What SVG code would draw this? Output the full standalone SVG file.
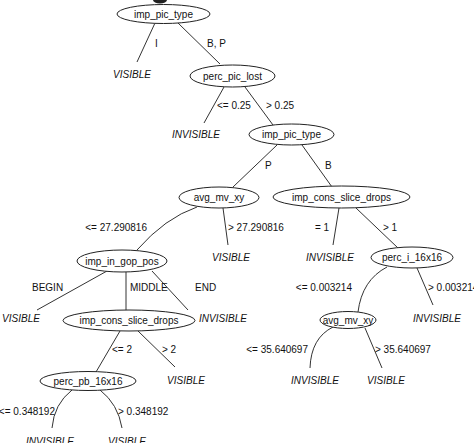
<svg xmlns="http://www.w3.org/2000/svg" width="474" height="443" viewBox="0 0 474 443">
<style>
.n ellipse{fill:#fff;stroke:#222;stroke-width:1}
text{font-family:"Liberation Sans",Arial,sans-serif;font-size:10px;fill:#111}
.c{text-anchor:middle}
.leaf{font-style:italic}
#edges path,#edges line{stroke:#333;stroke-width:1;fill:none}
</style>
<rect width="474" height="443" fill="#fff"/>
<ellipse cx="160" cy="0" rx="7" ry="3.5" fill="#222"/>
<g id="edges">
<line x1="155" y1="23" x2="137" y2="62"/>
<line x1="178" y1="23" x2="220" y2="64"/>
<line x1="224" y1="87" x2="204" y2="123"/>
<line x1="245" y1="87" x2="273" y2="125"/>
<line x1="277" y1="145" x2="233" y2="187"/>
<line x1="302" y1="145" x2="332" y2="187"/>
<path d="M197 207 Q165 218 137 250"/>
<line x1="223" y1="208" x2="228" y2="245"/>
<line x1="339" y1="208" x2="333" y2="245"/>
<line x1="356" y1="208" x2="398" y2="248"/>
<line x1="107" y1="271" x2="37" y2="310"/>
<line x1="126" y1="272" x2="126" y2="311"/>
<line x1="152" y1="271" x2="188" y2="310"/>
<path d="M387 267 Q362 280 358 312"/>
<line x1="417" y1="268" x2="433" y2="305"/>
<line x1="120" y1="331" x2="96" y2="372"/>
<line x1="138" y1="331" x2="175" y2="367"/>
<path d="M333 327 Q311 338 310 368"/>
<line x1="365" y1="328" x2="382" y2="368"/>
<path d="M72 390 Q54 404 52 428"/>
<path d="M100 390 Q118 404 122 428"/>
</g>
<g id="edge-labels">
<text x="155" y="47">I</text>
<text x="207" y="47">B, P</text>
<text x="217" y="109">&lt;= 0.25</text>
<text x="266" y="109">&gt; 0.25</text>
<text x="265" y="169">P</text>
<text x="325" y="169">B</text>
<text x="147" y="231" text-anchor="end">&lt;= 27.290816</text>
<text x="228" y="231">&gt; 27.290816</text>
<text x="315" y="231">= 1</text>
<text x="383" y="231">&gt; 1</text>
<text x="32" y="291">BEGIN</text>
<text x="130" y="291">MIDDLE</text>
<text x="195" y="291">END</text>
<text x="352" y="291" text-anchor="end">&lt;= 0.003214</text>
<text x="428" y="291">&gt; 0.003214</text>
<text x="112" y="353">&lt;= 2</text>
<text x="162" y="353">&gt; 2</text>
<text x="308" y="353" text-anchor="end">&lt;= 35.640697</text>
<text x="375" y="353">&gt; 35.640697</text>
<text x="55" y="415" text-anchor="end">&lt;= 0.348192</text>
<text x="118" y="415">&gt; 0.348192</text>
</g>
<g id="n1" class="n"><ellipse cx="163.5" cy="14" rx="46.5" ry="9.5"/><text class="c" x="163.5" y="17.5">imp_pic_type</text></g>
<g id="n2" class="n"><text class="c leaf" x="132" y="77.5">VISIBLE</text></g>
<g id="n3" class="n"><ellipse cx="232.5" cy="76" rx="42.5" ry="11"/><text class="c" x="232.5" y="79.5">perc_pic_lost</text></g>
<g id="n4" class="n"><text class="c leaf" x="196" y="138">INVISIBLE</text></g>
<g id="n5" class="n"><ellipse cx="291.5" cy="134.5" rx="42.5" ry="10.5"/><text class="c" x="291.5" y="138">imp_pic_type</text></g>
<g id="n6" class="n"><ellipse cx="219" cy="197.5" rx="40" ry="10.5"/><text class="c" x="219" y="201">avg_mv_xy</text></g>
<g id="n7" class="n"><ellipse cx="341.5" cy="197" rx="68.5" ry="11"/><text class="c" x="341.5" y="200.5">imp_cons_slice_drops</text></g>
<g id="n8" class="n"><text class="c leaf" x="231" y="260.5">VISIBLE</text></g>
<g id="n9" class="n"><text class="c leaf" x="330" y="260.5">INVISIBLE</text></g>
<g id="n10" class="n"><ellipse cx="412" cy="257.5" rx="41" ry="10.5"/><text class="c" x="412" y="261">perc_i_16x16</text></g>
<g id="n11" class="n"><ellipse cx="122" cy="261" rx="45" ry="11"/><text class="c" x="122" y="264.5">imp_in_gop_pos</text></g>
<g id="n12" class="n"><text class="c leaf" x="21" y="321.5">VISIBLE</text></g>
<g id="n13" class="n"><ellipse cx="129" cy="320.5" rx="66" ry="10.5"/><text class="c" x="129" y="324">imp_cons_slice_drops</text></g>
<g id="n14" class="n"><text class="c leaf" x="223" y="321.5">INVISIBLE</text></g>
<g id="n15" class="n"><ellipse cx="348" cy="320" rx="28" ry="8.5"/><text class="c" x="348" y="323.5">avg_mv_xy</text></g>
<g id="n16" class="n"><text class="c leaf" x="437" y="321.5">INVISIBLE</text></g>
<g id="n17" class="n"><ellipse cx="88" cy="381" rx="48" ry="9.5"/><text class="c" x="88" y="384.5">perc_pb_16x16</text></g>
<g id="n18" class="n"><text class="c leaf" x="186" y="383.5">VISIBLE</text></g>
<g id="n19" class="n"><text class="c leaf" x="315" y="383.5">INVISIBLE</text></g>
<g id="n20" class="n"><text class="c leaf" x="386" y="383.5">VISIBLE</text></g>
<g id="n21" class="n"><text class="c leaf" x="50" y="444.5">INVISIBLE</text></g>
<g id="n22" class="n"><text class="c leaf" x="127" y="444.5">VISIBLE</text></g>
</svg>
